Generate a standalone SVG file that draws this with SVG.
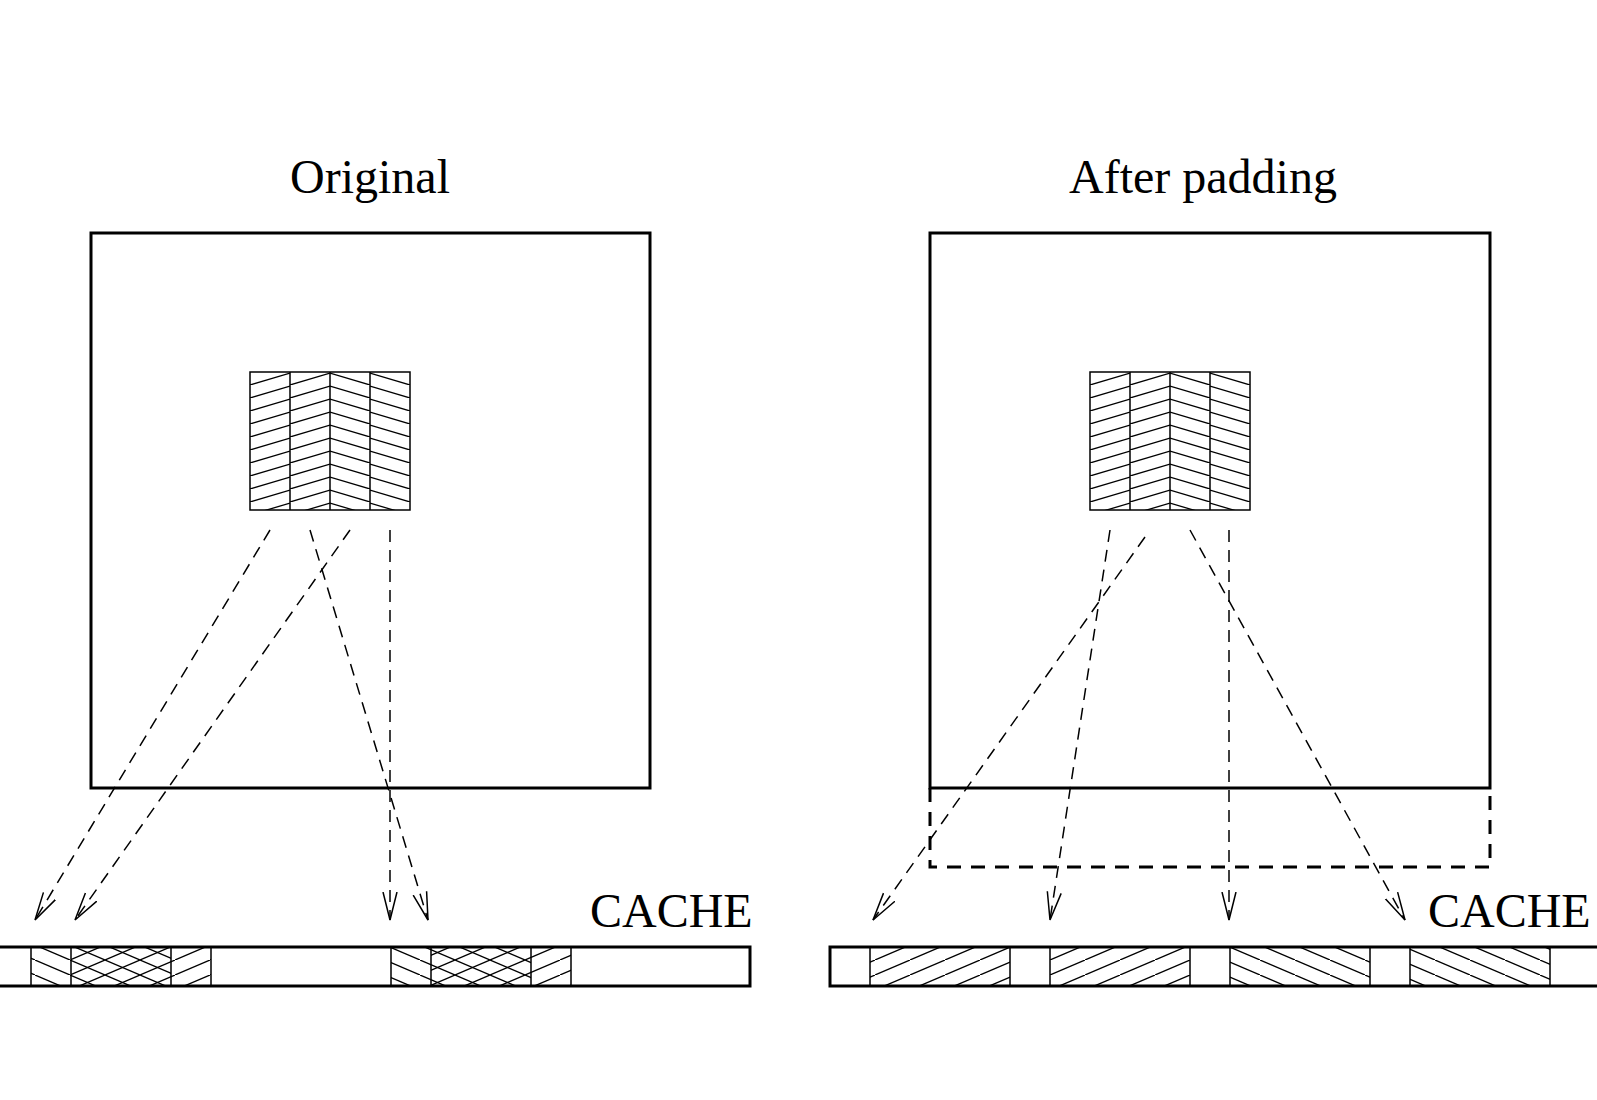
<svg xmlns="http://www.w3.org/2000/svg" width="1597" height="1100" viewBox="0 0 1597 1100">
<style>
text{font-family:"Liberation Serif",serif;font-size:48px;fill:#000}
.box{fill:none;stroke:#000;stroke-width:3}
.thin{fill:none;stroke:#000;stroke-width:1.5}
.dash{fill:none;stroke:#000;stroke-width:1.5;stroke-dasharray:12 8}
.hl{stroke:#000;stroke-width:1.3}
</style>
<defs>
<pattern id="bU" patternUnits="userSpaceOnUse" width="40" height="13" x="250" y="372"><line class="hl" x1="0" y1="13" x2="40" y2="1"/></pattern>
<pattern id="bD" patternUnits="userSpaceOnUse" width="40" height="13" x="330" y="372"><line class="hl" x1="0" y1="1" x2="40" y2="13"/></pattern>
<pattern id="bU2" patternUnits="userSpaceOnUse" width="40" height="13" x="1090" y="372"><line class="hl" x1="0" y1="13" x2="40" y2="1"/></pattern>
<pattern id="bD2" patternUnits="userSpaceOnUse" width="40" height="13" x="1170" y="372"><line class="hl" x1="0" y1="1" x2="40" y2="13"/></pattern>
<pattern id="cU" patternUnits="userSpaceOnUse" width="35" height="15"><line class="hl" x1="0" y1="15" x2="35" y2="0"/></pattern>
<pattern id="cD" patternUnits="userSpaceOnUse" width="35" height="15"><line class="hl" x1="0" y1="0" x2="35" y2="15"/></pattern>
<pattern id="cX" patternUnits="userSpaceOnUse" width="35" height="15"><line class="hl" x1="0" y1="15" x2="35" y2="0"/><line class="hl" x1="0" y1="0" x2="35" y2="15"/></pattern>
<marker id="ah" markerWidth="30" markerHeight="20" refX="28" refY="10" orient="auto" markerUnits="userSpaceOnUse"><path d="M0,3 L28,10 L0,17" fill="none" stroke="#000" stroke-width="1.5"/></marker>
</defs>
<text x="370" y="193" text-anchor="middle">Original</text>
<text x="1203" y="193" text-anchor="middle">After padding</text>
<g id="matrix-left"><rect class="box" x="91" y="233" width="559" height="555"/></g>
<g id="matrix-right"><rect class="box" x="930" y="233" width="560" height="555"/>
<path class="box" d="M930,788 V867 H1490 V788" stroke-dasharray="14 10"/></g>
<g id="block-left">
<rect x="250" y="372" width="80" height="138" fill="url(#bU)"/>
<rect x="330" y="372" width="80" height="138" fill="url(#bD)"/>
<rect class="thin" x="250" y="372" width="160" height="138"/>
<path class="thin" d="M290,372V510M330,372V510M370,372V510"/></g>
<g id="block-right">
<rect x="1090" y="372" width="80" height="138" fill="url(#bU2)"/>
<rect x="1170" y="372" width="80" height="138" fill="url(#bD2)"/>
<rect class="thin" x="1090" y="372" width="160" height="138"/>
<path class="thin" d="M1130,372V510M1170,372V510M1210,372V510"/></g>
<g id="cache-left">
<rect x="31" y="948" width="40" height="38" fill="url(#cD)"/>
<rect x="71" y="948" width="100" height="38" fill="url(#cX)"/>
<rect x="171" y="948" width="40" height="38" fill="url(#cU)"/>
<rect x="391" y="948" width="40" height="38" fill="url(#cD)"/>
<rect x="431" y="948" width="100" height="38" fill="url(#cX)"/>
<rect x="531" y="948" width="40" height="38" fill="url(#cU)"/>
<path class="thin" d="M31,948V986M71,948V986M171,948V986M211,948V986M391,948V986M431,948V986M531,948V986M571,948V986"/>
<rect class="box" x="-5" y="947" width="755" height="39"/>
<text x="590" y="927">CACHE</text></g>
<g id="cache-right">
<rect x="870" y="948" width="140" height="38" fill="url(#cU)"/>
<rect x="1050" y="948" width="140" height="38" fill="url(#cU)"/>
<rect x="1230" y="948" width="140" height="38" fill="url(#cD)"/>
<rect x="1410" y="948" width="140" height="38" fill="url(#cD)"/>
<path class="thin" d="M870,948V986M1010,948V986M1050,948V986M1190,948V986M1230,948V986M1370,948V986M1410,948V986M1550,948V986"/>
<rect class="box" x="830" y="947" width="780" height="39"/>
<text x="1428" y="927">CACHE</text></g>
<g id="connectors">
<line class="dash" x1="270" y1="530" x2="35" y2="920" marker-end="url(#ah)"/>
<line class="dash" x1="350" y1="530" x2="75" y2="920" marker-end="url(#ah)"/>
<line class="dash" x1="310" y1="530" x2="428" y2="920" marker-end="url(#ah)"/>
<line class="dash" x1="390" y1="530" x2="390" y2="920" marker-end="url(#ah)"/>
<line class="dash" x1="1110" y1="530" x2="1050" y2="920" marker-end="url(#ah)"/>
<line class="dash" x1="1145" y1="537" x2="873" y2="920" marker-end="url(#ah)"/>
<line class="dash" x1="1190" y1="530" x2="1405" y2="920" marker-end="url(#ah)"/>
<line class="dash" x1="1229" y1="530" x2="1229" y2="920" marker-end="url(#ah)"/>
</g>
</svg>
